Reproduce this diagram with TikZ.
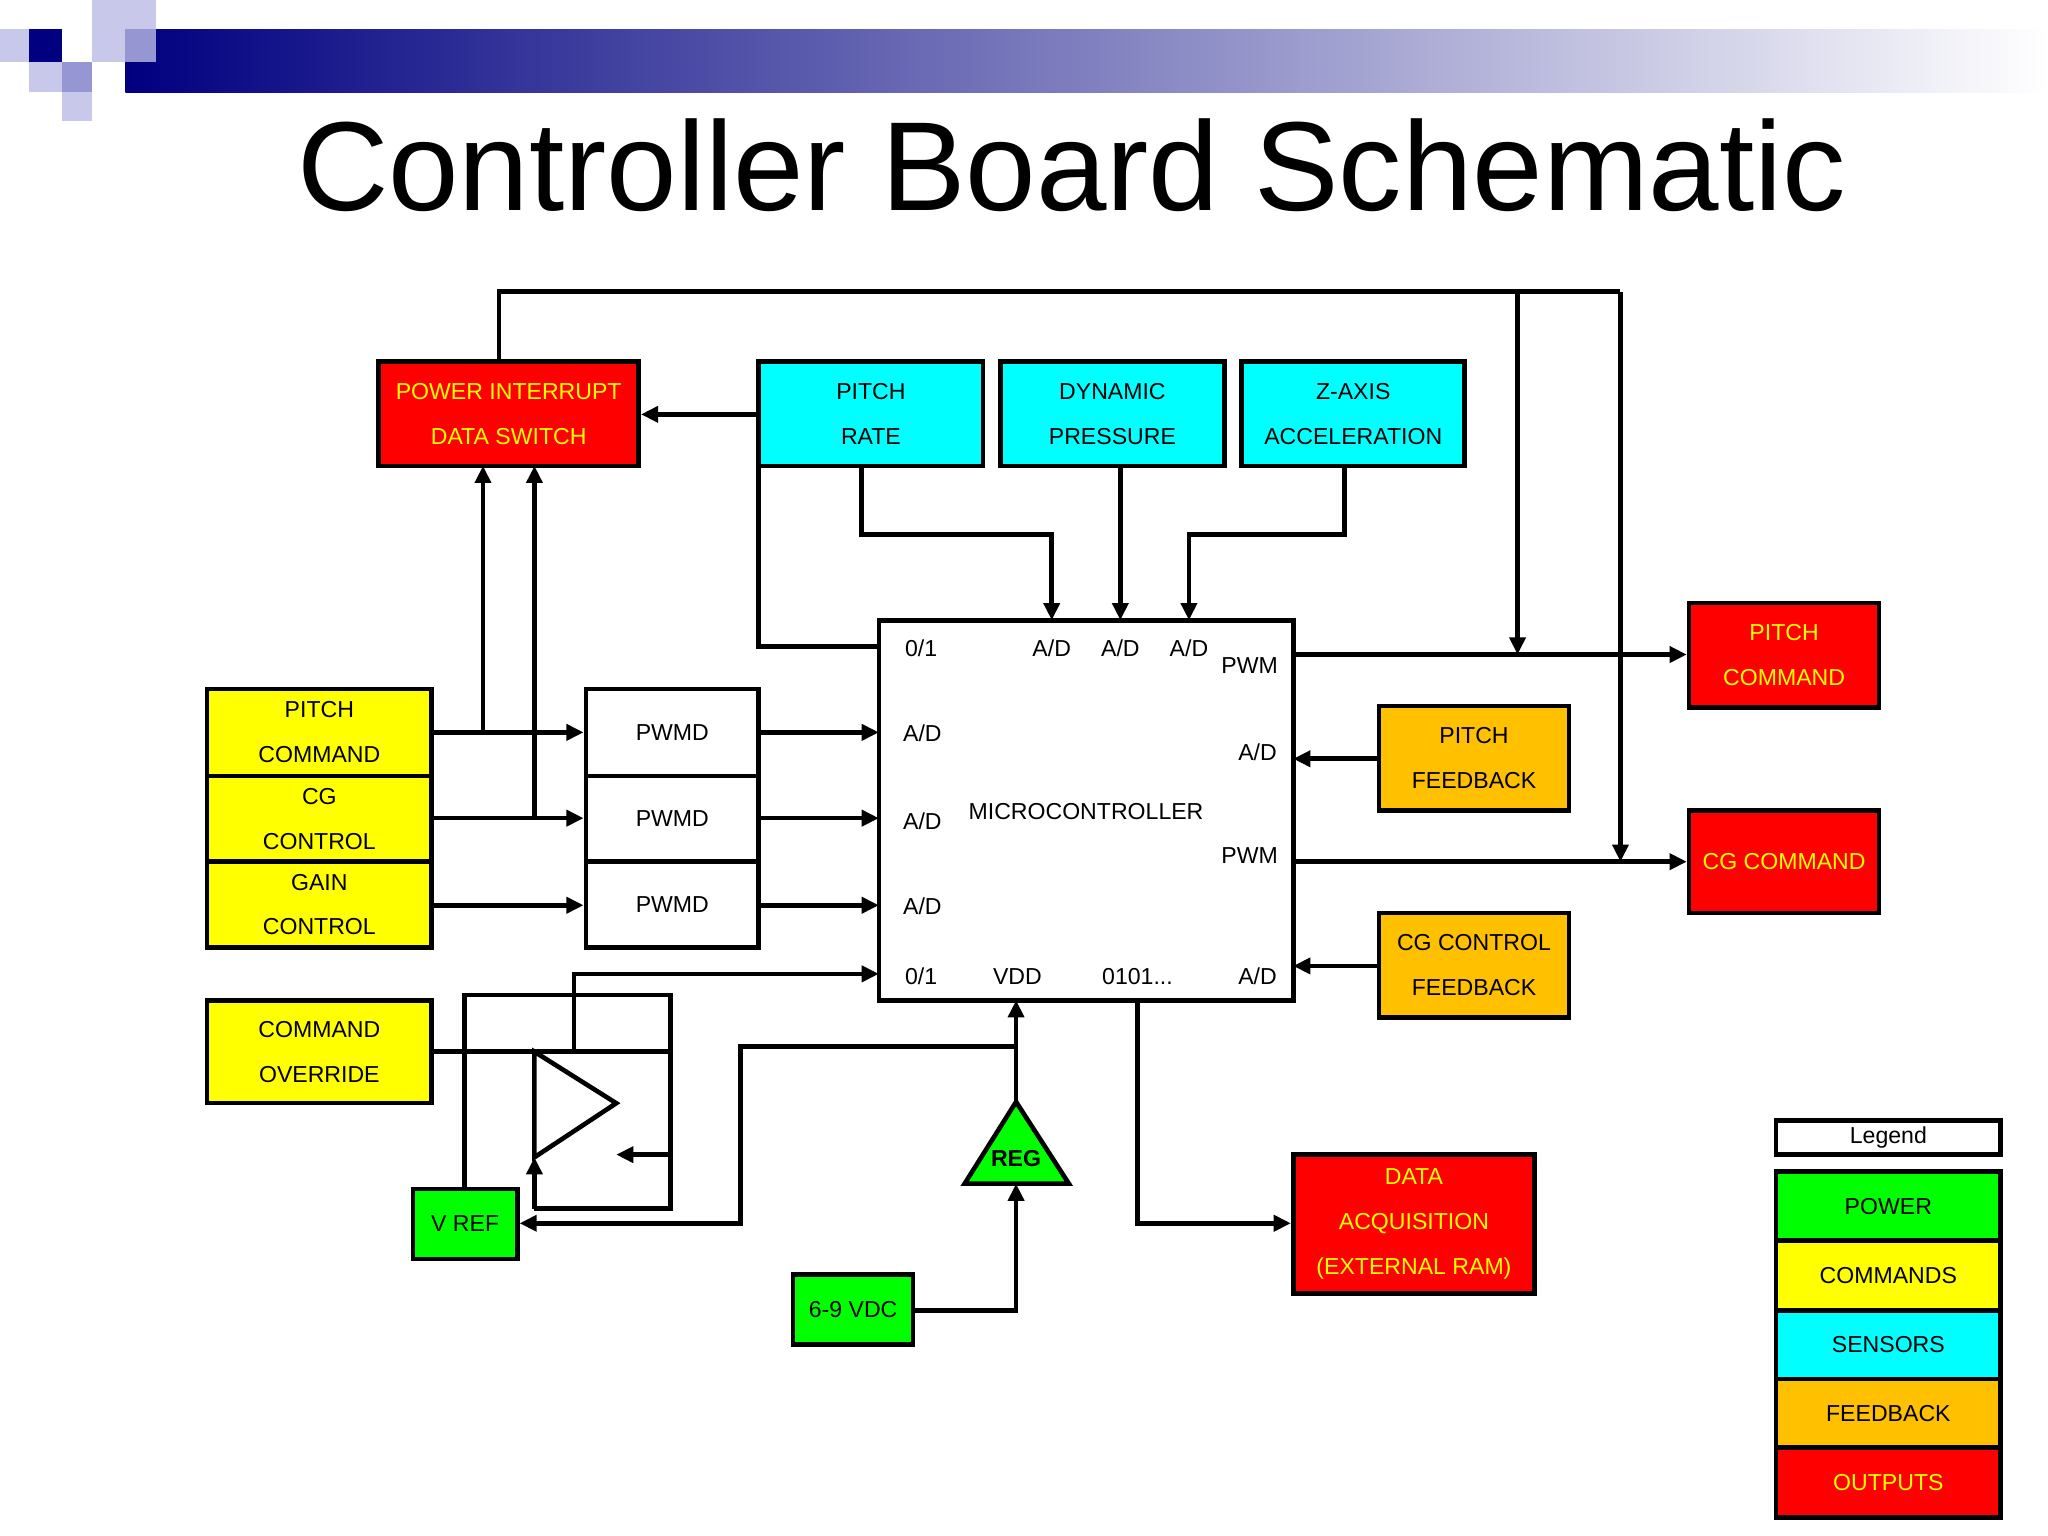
\documentclass[tikz,border=0pt]{standalone}
\usepackage{fontspec}
\setmainfont{Liberation Sans}
\usetikzlibrary{arrows.meta}
\definecolor{navy}{RGB}{0,0,128}
\definecolor{lav}{RGB}{150,150,210}
\definecolor{lav2}{RGB}{200,200,235}
\definecolor{cyanb}{RGB}{0,255,255}
\definecolor{orng}{RGB}{255,192,0}
\definecolor{grn}{RGB}{0,255,0}
\definecolor{ylw}{RGB}{255,255,0}
\definecolor{rd}{RGB}{255,0,0}
\newcommand{\bx}[7]{\node[box,fill=#6,minimum width={#4-#2},minimum height={#5-#3}] (#1) at ({(#2+#4)/2},{(#3+#5)/2}) {#7};}
\tikzset{
  box/.style={draw,line width=3.5pt,inner sep=0pt,align=center,font=\fontsize{17.5}{34}\selectfont},
  ln/.style={line width=3.5pt},
  ar/.style={line width=3.5pt,-{Triangle[length=13pt,width=12pt]}},
  lb/.style={font=\fontsize{17.5}{22}\selectfont,inner sep=0pt}
}
\begin{document}
\begin{tikzpicture}[x=1pt,y=-1pt]
\useasboundingbox (0,0) rectangle (1552,1164);
% header
\shade[left color=navy,right color=white] (95,22) rectangle (1552,70);
\fill[navy] (22,22) rectangle (47,47);
\fill[lav2] (70,0) rectangle (118,22);
\fill[lav] (95,22) rectangle (118,47);
\fill[lav2] (70,22) rectangle (95,47);
\fill[lav] (47,47) rectangle (70,70);
\fill[lav2] (0,22) rectangle (22,47);
\fill[lav2] (22,47) rectangle (47,70);
\fill[lav2] (47,70) rectangle (70,92);
\node[font=\fontsize{96}{100}\selectfont] (title) at (812,125) {Controller Board Schematic};
% boxes
\bx{pid}{287}{274}{484}{353}{rd}{\textcolor{ylw}{POWER INTERRUPT}\\\textcolor{ylw}{DATA SWITCH}}
\bx{pr}{575}{274}{745}{353}{cyanb}{PITCH\\RATE}
\bx{dp}{758}{274}{928}{353}{cyanb}{DYNAMIC\\PRESSURE}
\bx{za}{941}{274}{1110}{353}{cyanb}{Z-AXIS\\ACCELERATION}
\bx{mc}{666}{470}{980}{758}{white}{}
\bx{pc}{157}{522}{327}{588}{ylw}{PITCH\\COMMAND}
\bx{cg}{157}{588}{327}{653}{ylw}{CG\\CONTROL}
\bx{gc}{157}{653}{327}{718}{ylw}{GAIN\\CONTROL}
\bx{p1}{444}{522}{575}{588}{white}{PWMD}
\bx{p2}{444}{588}{575}{653}{white}{PWMD}
\bx{p3}{444}{653}{575}{718}{white}{PWMD}
\bx{co}{157}{758}{327}{836}{ylw}{COMMAND\\OVERRIDE}
\bx{vr}{313}{901}{392}{954}{grn}{V REF}
\bx{vdc}{601}{966}{692}{1019}{grn}{6-9 VDC}
\bx{pf}{1045}{535}{1189}{614}{orng}{PITCH\\FEEDBACK}
\bx{cf}{1045}{692}{1189}{771}{orng}{CG CONTROL\\FEEDBACK}
\bx{poc}{1280}{457}{1424}{536}{rd}{\textcolor{ylw}{PITCH}\\\textcolor{ylw}{COMMAND}}
\bx{cgc}{1280}{614}{1424}{692}{rd}{\textcolor{ylw}{CG COMMAND}}
\bx{da}{980}{875}{1163}{980}{rd}{\textcolor{ylw}{DATA}\\\textcolor{ylw}{ACQUISITION}\\\textcolor{ylw}{(EXTERNAL RAM)}}
% legend
\bx{lg}{1346}{849}{1516}{875}{white}{Legend}
\bx{l1}{1346}{888}{1516}{940}{grn}{POWER}
\bx{l2}{1346}{940}{1516}{993}{ylw}{COMMANDS}
\bx{l3}{1346}{993}{1516}{1045}{cyanb}{SENSORS}
\bx{l4}{1346}{1045}{1516}{1097}{orng}{FEEDBACK}
\bx{l5}{1346}{1097}{1516}{1150}{rd}{\textcolor{ylw}{OUTPUTS}}
% REG
\path[draw,line width=3.5pt,fill=grn] (731,897) -- (770,835) -- (810,897) -- cycle;
\node[font=\bfseries\fontsize{17.5}{20}\selectfont] (reg) at (770,878) {REG};
% micro labels
\node[lb] (m1) at (698,491) {0/1};
\node[lb] at (797,491) {A/D};
\node[lb] at (849,491) {A/D};
\node[lb] at (901,491) {A/D};
\node[lb] at (947,504) {PWM};
\node[lb] at (699,556) {A/D};
\node[lb] at (953,570) {A/D};
\node[lb] at (699,622) {A/D};
\node[lb] at (823,615) {MICROCONTROLLER};
\node[lb] at (947,648) {PWM};
\node[lb] at (699,687) {A/D};
\node[lb] at (698,740) {0/1};
\node[lb] at (771,740) {VDD};
\node[lb] at (862,740) {0101...};
\node[lb] at (953,740) {A/D};
% connectors
\draw[ln] (378,274) -- (378,221) -- (1228,221);
\draw[ar] (1228,221) -- (1228,653);
\draw[ar] (1150,221) -- (1150,496);
\draw[ar] (980,496) -- (poc.west |- 0,496);
\draw[ar] (980,653) -- (cgc.west |- 0,653);
\draw[ar] (653,353) -- (653,405) -- (797,405) -- (797,470);
\draw[ar] (849,353) -- (849,470);
\draw[ar] (1019,353) -- (1019,405) -- (901,405) -- (901,470);
\draw[ar] (666,490) -- (575,490) -- (575,314) -- (pid.east |- 0,314);
\draw[ar] (pc.east |- 0,555) -- (p1.west |- 0,555);
\draw[ar] (cg.east |- 0,620) -- (p2.west |- 0,620);
\draw[ar] (gc.east |- 0,686) -- (p3.west |- 0,686);
\draw[ar] (366,555) -- (366,353);
\draw[ar] (405,620) -- (405,353);
\draw[ar] (p1.east |- 0,555) -- (666,555);
\draw[ar] (p2.east |- 0,620) -- (666,620);
\draw[ar] (p3.east |- 0,686) -- (666,686);
\draw[ar] (pf.west |- 0,575) -- (980,575);
\draw[ar] (cf.west |- 0,732) -- (980,732);
\draw[ar] (862,758) -- (862,927) -- (da.west |- 0,927);
\draw[ar] (vdc.east |- 0,993) -- (770,993) -- (770,897);
\draw[ar] (770,835) -- (770,758);
\draw[ar] (770,793) -- (561,793) -- (561,927) -- (vr.east |- 0,927);
% amplifier area
\draw[ln] (352,901) -- (352,754) -- (508,754) -- (508,916) -- (405,916);
\draw[ar] (405,916) -- (405,877);
\draw[ln] (co.east |- 0,797) -- (508,797);
\draw[ar] (435,797) -- (435,738) -- (666,738);
\draw[ar] (508,875) -- (467,875);
\draw[ln,line join=miter] (405,797) -- (467,836) -- (405,877) -- cycle;
\end{tikzpicture}
\end{document}
